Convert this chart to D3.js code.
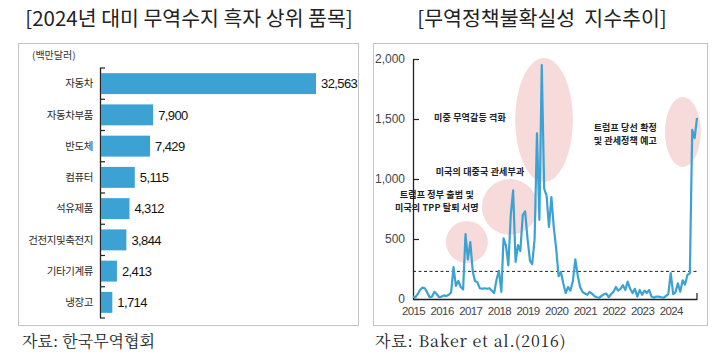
<!DOCTYPE html>
<html><head><meta charset="utf-8">
<script src="https://cdn.jsdelivr.net/npm/d3@7"></script>
<style>
html,body{margin:0;padding:0;background:#fff;}
svg{display:block;font-family:"Noto Sans CJK KR","Noto Sans",sans-serif;}
</style></head>
<body>
<svg id="c" width="720" height="360"></svg>
<script>
// ---------- data ----------
const barTitle = "[2024년 대미 무역수지 흑자 상위 품목]";
const barUnit = "(백만달러)";
const barCategories = ["자동차","자동차부품","반도체","컴퓨터","석유제품","건전지및축전지","기타기계류","냉장고"];
const barValues = [32563,7900,7429,5115,4312,3844,2413,1714];
const barSource = "자료: 한국무역협회";

const lineTitle = "[무역정책불확실성  지수추이]";
const lineSource = "자료: Baker et al.(2016)";
const lineStartYear = 2015;
// monthly index values, Jan 2015 .. Dec 2024
const tpuValues = [
  20,15,40,75,95,90,55,15,20,60,40,15,
  20,30,25,35,55,265,110,150,100,80,540,330,
  475,230,150,140,90,85,90,85,90,70,50,160,
  235,60,505,445,280,700,905,310,450,400,700,730,
  500,320,290,500,1380,660,1950,920,860,600,850,600,
  420,190,225,130,50,100,70,150,330,200,100,60,
  45,35,60,45,25,15,10,25,40,45,15,40,
  60,100,70,85,115,75,145,85,50,85,20,75,
  35,70,50,75,20,10,20,20,15,10,25,40,
  215,40,55,130,60,155,120,200,215,1410,1340,1510
];
const yearTicks = [2015,2016,2017,2018,2019,2020,2021,2022,2023,2024];
const yTicks = [0,500,1000,1500,2000];
const meanLevel = 230;
// highlighted periods: centre (month index, value), radius (months, value units)
const highlightMonth = [22.6, 40.6, 54.9, 113.1];
const highlightValue = [475, 767, 1492, 1392];
const highlightRM = [8.8, 11.7, 12.1, 7.5];
const highlightRV = [175, 233, 517, 292];
// annotations: lines of text, anchor month, anchor value
const noteLines = [["미중 무역갈등 격화"],["미국의 대중국 관세부과"],["트럼프 정부 출범 및","미국의 TPP 탈퇴 서명"],["트럼프 당선 확정","및 관세정책 예고"]];
const noteMonth = [23.9, 28.1, 10.0, 89.0];
const noteValue = [1508, 1058, 872, 1430];

// ---------- drawing ----------
const svg = d3.select("#c");
const blue = "#3ca2d4";

// panel frames
svg.append("rect").attr("x",18.5).attr("y",43.5).attr("width",340).attr("height",282)
  .attr("fill","none").attr("stroke","#c4c4c4");
svg.append("rect").attr("x",373.5).attr("y",43.5).attr("width",334).attr("height",282)
  .attr("fill","none").attr("stroke","#c4c4c4");

// titles
svg.append("text").attr("x",189).attr("y",26).attr("text-anchor","middle")
  .attr("font-size",20.5).attr("fill","#222").text(barTitle);
svg.append("text").attr("x",542).attr("y",26).attr("text-anchor","middle")
  .attr("font-size",20.5).attr("fill","#222").style("white-space","pre").text(lineTitle);

// sources
const srcFont = "'Noto Serif CJK KR','Liberation Serif','DejaVu Serif',serif";
svg.append("text").attr("x",22).attr("y",347).attr("font-size",16).attr("fill","#222")
  .attr("font-family",srcFont).text(barSource);
svg.append("text").attr("x",375).attr("y",347).attr("font-size",16).attr("fill","#222")
  .attr("font-family",srcFont).attr("letter-spacing",0.8).text(lineSource);

// ----- bar chart -----
const bx = d3.scaleLinear().domain([0, 32563]).range([101, 316]);
const by = d3.scaleBand().domain(barCategories).range([68, 318]).paddingInner(0.33).paddingOuter(0.165);
const bg = svg.append("g");
bg.append("text").attr("x",32).attr("y",59).attr("font-size",10).attr("fill","#333").text(barUnit);
bg.append("line").attr("x1",100.5).attr("x2",100.5).attr("y1",by.range()[0]).attr("y2",by.range()[1])
  .attr("stroke","#222").attr("stroke-width",1.3);
d3.range(barCategories.length+1).forEach(i=>{
  const yy = by.range()[0] + i*by.step();
  bg.append("line").attr("x1",100).attr("x2",105).attr("y1",yy).attr("y2",yy)
    .attr("stroke","#222").attr("stroke-width",1.2);
});
bg.selectAll("rect.bar").data(barCategories).join("rect").attr("class","bar")
  .attr("x",bx(0)).attr("y",d=>by(d)).attr("height",by.bandwidth())
  .attr("width",(d,i)=>bx(barValues[i])-bx(0)).attr("fill",blue);
bg.selectAll("text.cat").data(barCategories).join("text").attr("class","cat")
  .attr("x",93).attr("y",d=>by(d)+by.bandwidth()/2).attr("dy","0.36em")
  .attr("text-anchor","end").attr("font-size",10.5).attr("letter-spacing",-0.4).attr("fill","#2a2a2a").text(d=>d);
bg.selectAll("text.val").data(barCategories).join("text").attr("class","val")
  .attr("x",(d,i)=>bx(barValues[i])+5).attr("y",d=>by(d)+by.bandwidth()/2).attr("dy","0.36em")
  .attr("font-family","'Liberation Sans',Arial,sans-serif")
  .attr("font-size",13).attr("letter-spacing",-0.6).attr("fill","#111")
  .text((d,i)=>d3.format(",")(barValues[i]));

// ----- line chart -----
const dates = tpuValues.map((v,i)=>new Date(lineStartYear, i, 1));
const lx = d3.scaleTime().domain([dates[0], dates[dates.length-1]]).range([413, 697]);
const ly = d3.scaleLinear().domain([0, 2000]).range([299, 59]);
const mDate = m => new Date(lineStartYear, 0, 1 + m*30.4375);
const lg = svg.append("g");

// highlight ellipses
highlightMonth.forEach((m,i)=>{
  const cx = lx(mDate(m)), cy = ly(highlightValue[i]);
  const rx = lx(mDate(m+highlightRM[i])) - cx;
  const ry = cy - ly(highlightValue[i]+highlightRV[i]);
  lg.append("ellipse").attr("cx",cx).attr("cy",cy).attr("rx",rx).attr("ry",ry)
    .attr("fill","#f6d3d3").attr("opacity",0.85);
});

// annotations (one text element per line)
noteLines.forEach((lines,i)=>{
  const ax = lx(mDate(noteMonth[i])), ay = ly(noteValue[i]);
  lines.forEach((s,j)=>{
    lg.append("text").attr("x",ax).attr("y",ay + j*13.4).attr("dy","0.35em")
      .attr("text-anchor","middle").attr("font-size",9).attr("font-weight","bold")
      .attr("letter-spacing",0.15).attr("fill","#222").text(s);
  });
});

// axes
const yAxis = d3.axisLeft(ly).tickValues(yTicks).tickSizeInner(-6).tickSizeOuter(0).tickPadding(8)
  .tickFormat(d3.format(","));
const ya = lg.append("g").attr("transform","translate(413,0)").call(yAxis);
ya.select(".domain").attr("stroke","#222").attr("stroke-width",1.3);
ya.selectAll(".tick line").attr("stroke","#222").attr("stroke-width",1.2);
ya.selectAll("text").attr("font-family","'Liberation Sans',Arial,sans-serif").attr("font-size",12).attr("fill","#444");

const xAxis = d3.axisBottom(lx).tickValues(yearTicks.map(y=>new Date(y,0,1)))
  .tickSize(0).tickPadding(8).tickFormat(d3.timeFormat("%Y"));
const xa = lg.append("g").attr("transform","translate(0,299)").call(xAxis);
xa.select(".domain").attr("stroke","#222").attr("stroke-width",1.3);
xa.selectAll("text").attr("font-family","'Liberation Sans',Arial,sans-serif").attr("font-size",11.5)
  .attr("letter-spacing",-0.6).attr("fill","#444");
lg.append("line").attr("x1",lx.range()[1]).attr("x2",lx.range()[1]).attr("y1",ly(0)).attr("y2",ly(0)-6)
  .attr("stroke","#222").attr("stroke-width",1.2);

// mean dashed line
lg.append("line").attr("x1",lx.range()[0]).attr("x2",lx.range()[1]).attr("y1",ly(meanLevel)).attr("y2",ly(meanLevel))
  .attr("stroke","#222").attr("stroke-width",1).attr("stroke-dasharray","3,2.5");

// series line
const line = d3.line().x((d,i)=>lx(dates[i])).y(d=>ly(d));
lg.append("path").datum(tpuValues).attr("d",line).attr("fill","none")
  .attr("stroke",blue).attr("stroke-width",2.2).attr("stroke-linejoin","round");
</script>
</body></html>
